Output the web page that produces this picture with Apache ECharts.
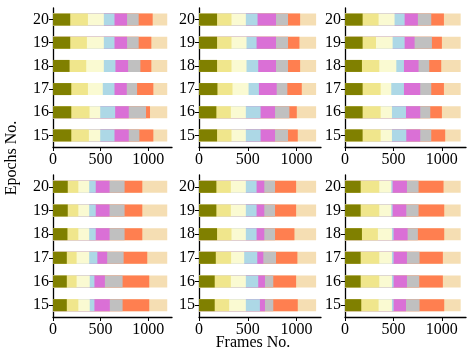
<!DOCTYPE html>
<html>
<head>
<meta charset="utf-8">
<script src="https://cdn.jsdelivr.net/npm/echarts@6/dist/echarts.min.js"></script>
<style>html,body{margin:0;padding:0;background:#fff}#c{width:474px;height:358px}</style>
</head>
<body>
<div id="c"></div>
<script>
// Epoch categories (bottom to top)
const epochs = ['15', '16', '17', '18', '19', '20'];
// X tick labels
const xTicks = [0, 500, 1000];
// Segment names (left to right) and colours
const segments = ['s1', 's2', 's3', 's4', 's5', 's6', 's7', 's8'];
const segColors = ['#808000', '#F0E68C', '#FAFAD2', '#ADD8E6', '#DA70D6', '#C0C0C0', '#FF7F50', '#F5DEB3'];

// Segment end positions (frames) per epoch row 15..20, for each panel
const panel1 = [
  [192, 377, 496, 646, 796, 907, 1054, 1200],
  [192, 384, 496, 653, 796, 977, 1019, 1200],
  [192, 367, 523, 646, 775, 883, 1054, 1200],
  [174, 349, 534, 656, 789, 918, 1033, 1200],
  [181, 356, 534, 646, 778, 900, 1033, 1200],
  [181, 367, 534, 646, 778, 900, 1047, 1200]
];
const panel2 = [
  [185, 333, 480, 631, 779, 912, 1012, 1200],
  [178, 326, 480, 631, 779, 926, 1002, 1200],
  [189, 343, 508, 614, 796, 905, 1053, 1200],
  [185, 333, 487, 607, 789, 912, 1036, 1200],
  [185, 333, 487, 590, 789, 912, 1029, 1200],
  [185, 333, 480, 600, 789, 912, 1036, 1200]
];
const panel3 = [
  [182, 368, 485, 633, 777, 891, 1035, 1195],
  [182, 368, 485, 630, 777, 881, 1001, 1195],
  [182, 368, 478, 609, 777, 891, 1022, 1195],
  [175, 354, 530, 609, 760, 870, 994, 1195],
  [182, 320, 492, 616, 719, 898, 1001, 1195],
  [182, 347, 512, 616, 753, 891, 1022, 1195]
];
const panel4 = [
  [145, 266, 386, 435, 597, 731, 1011, 1200],
  [145, 248, 386, 435, 545, 731, 1011, 1200],
  [145, 248, 380, 466, 569, 742, 990, 1200],
  [152, 266, 380, 449, 594, 752, 938, 1200],
  [155, 266, 380, 449, 594, 752, 938, 1200],
  [155, 266, 380, 449, 594, 752, 938, 1200]
];
const panel5 = [
  [161, 309, 480, 624, 676, 761, 1012, 1200],
  [161, 326, 480, 607, 676, 761, 995, 1200],
  [172, 329, 463, 597, 659, 789, 1008, 1200],
  [185, 333, 480, 590, 669, 779, 978, 1200],
  [178, 326, 480, 590, 669, 779, 995, 1200],
  [178, 326, 480, 590, 669, 779, 995, 1200]
];
const panel6 = [
  [168, 347, 485, 502, 630, 770, 1025, 1195],
  [162, 354, 485, 502, 640, 767, 1011, 1195],
  [162, 354, 485, 502, 640, 770, 1011, 1195],
  [175, 340, 485, 502, 647, 753, 1025, 1195],
  [162, 354, 478, 492, 633, 760, 1025, 1195],
  [162, 354, 478, 492, 640, 760, 1018, 1195]
];
const panels = [panel1, panel2, panel3, panel4, panel5, panel6];

const font = 'Liberation Serif';
const gridPos = [
  {left: 53, top: 8, width: 119, height: 139},
  {left: 199, top: 8, width: 122, height: 139},
  {left: 345, top: 8, width: 121, height: 139},
  {left: 53, top: 175, width: 119, height: 142},
  {left: 199, top: 175, width: 122, height: 142},
  {left: 345, top: 175, width: 121, height: 142}
];

const grids = [], xAxes = [], yAxes = [], series = [];
gridPos.forEach((g, i) => {
  grids.push(Object.assign({containLabel: false}, g));
  xAxes.push({
    type: 'value', gridIndex: i, min: 0, max: 1250, interval: 500,
    axisLine: {show: true, lineStyle: {color: '#000', width: 1.3}},
    axisTick: {show: true, length: 4, lineStyle: {color: '#000'}, customValues: xTicks},
    axisLabel: {color: '#000', fontFamily: font, fontSize: 16, margin: 5, customValues: xTicks,
      formatter: v => String(v)},
    splitLine: {show: false}
  });
  yAxes.push({
    type: 'category', gridIndex: i, data: epochs,
    axisLine: {show: true, lineStyle: {color: '#000', width: 1.3}},
    axisTick: {show: true, length: 4, alignWithLabel: true, lineStyle: {color: '#000'}},
    axisLabel: {color: '#000', fontFamily: font, fontSize: 16, margin: 4}
  });
  const rows = panels[i];
  for (let s = segments.length - 1; s >= 0; s--) {
    series.push({
      type: 'bar', name: segments[s], xAxisIndex: i, yAxisIndex: i,
      data: rows.map(r => r[s]), barWidth: 12, barGap: '-100%',
      itemStyle: {color: segColors[s]}, silent: true
    });
  }
});

const chart = echarts.init(document.getElementById('c'));
chart.setOption({
  animation: false,
  grid: grids, xAxis: xAxes, yAxis: yAxes, series: series,
  graphic: [
    {type: 'text', x: 253, y: 343, style: {text: 'Frames No.', fontFamily: font, fontSize: 16, fill: '#000', textAlign: 'center', textVerticalAlign: 'middle'}},
    {type: 'text', x: 12, y: 158, rotation: Math.PI / 2, style: {text: 'Epochs No.', fontFamily: font, fontSize: 16, fill: '#000', textAlign: 'center', textVerticalAlign: 'middle'}}
  ]
});
</script>
</body>
</html>
